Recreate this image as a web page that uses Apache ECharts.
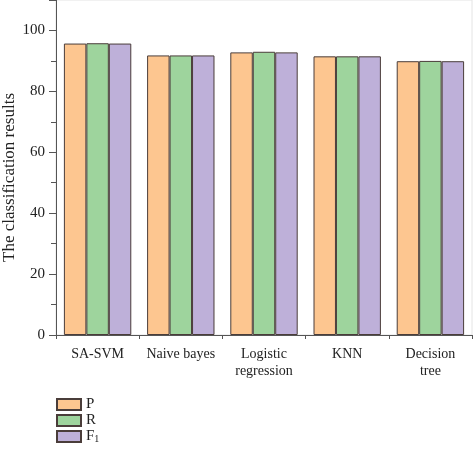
<!DOCTYPE html>
<html>
<head>
<meta charset="utf-8">
<script src="https://cdn.jsdelivr.net/npm/echarts@6/dist/echarts.min.js"></script>
<style>html,body{margin:0;padding:0;background:#fff}#c{width:474px;height:450px}</style>
</head>
<body>
<div id="c"></div>
<script>
const categories = ["SA-SVM", "Naive bayes", "Logistic\nregression", "KNN", "Decision\ntree"];
const seriesNames = ["P", "R", "F1"];
const pValues = [95.7, 91.8, 92.8, 91.5, 89.9];
const rValues = [95.8, 91.8, 93.0, 91.5, 90.0];
const f1Values = [95.7, 91.8, 92.8, 91.5, 89.9];
const yTicks = { min: 0, max: 110, interval: 20 };

const colors = ["#FDC690", "#9ED49D", "#BEB0D9"];
const font = "Liberation Serif";
const chart = echarts.init(document.getElementById('c'));
const values = [pValues, rValues, f1Values];
chart.setOption({
  animation: false,
  textStyle: { fontFamily: font },
  grid: { left: 56, right: 2, top: 0, bottom: 115, outerBoundsMode: 'none', containLabel: false,
    show: true, borderColor: '#e4e4e4', borderWidth: 1, backgroundColor: 'transparent' },
  legend: {
    orient: 'vertical', left: 56, top: 397, height: 100, padding: 0,
    itemWidth: 24, itemHeight: 11, itemGap: 1,
    icon: 'rect',
    data: seriesNames,
    textStyle: { fontFamily: font, fontSize: 15, color: '#222', lineHeight: 15,
      rich: { s: { fontFamily: font, fontSize: 10, color: '#222', verticalAlign: 'bottom', padding: [8, 0, 0, 0] } } },
    formatter: n => n === 'F1' ? 'F{s|1}' : n
  },
  xAxis: [{
    type: 'category', data: categories,
    axisLine: { lineStyle: { color: '#555', width: 1 } },
    axisTick: { alignWithLabel: true, length: 5, lineStyle: { color: '#555' } },
    axisLabel: { color: '#222', fontSize: 14, fontFamily: font, margin: 11, lineHeight: 17, interval: 0 }
  }, {
    type: 'category', data: categories, position: 'bottom',
    axisLine: { show: false },
    axisTick: { show: true, length: 4, lineStyle: { color: '#555' } },
    axisLabel: { show: false }
  }],
  yAxis: {
    type: 'value', min: yTicks.min, max: yTicks.max, interval: yTicks.interval,
    name: 'The classification results', nameLocation: 'middle', nameGap: 38, nameMoveOverlap: false,
    nameTextStyle: { fontFamily: font, fontSize: 17, color: '#222', padding: [0, 20, 0, 0] },
    axisLine: { show: true, lineStyle: { color: '#555', width: 1 } },
    axisTick: { show: true, length: 7, lineStyle: { color: '#555' } },
    minorTick: { show: true, splitNumber: 2, length: 5, lineStyle: { color: '#555' } },
    splitLine: { show: false },
    axisLabel: { color: '#222', fontSize: 15, fontFamily: font, margin: 11, showMaxLabel: false,
      formatter: v => v > 100 ? '' : String(v) }
  },
  series: seriesNames.map((n, i) => ({
    name: n, type: 'bar', data: values[i], xAxisIndex: 0,
    barGap: '0%', barCategoryGap: '19%',
    itemStyle: { color: colors[i], borderColor: '#4a3d3a', borderWidth: 1 }
  }))
});
</script>
</body>
</html>
